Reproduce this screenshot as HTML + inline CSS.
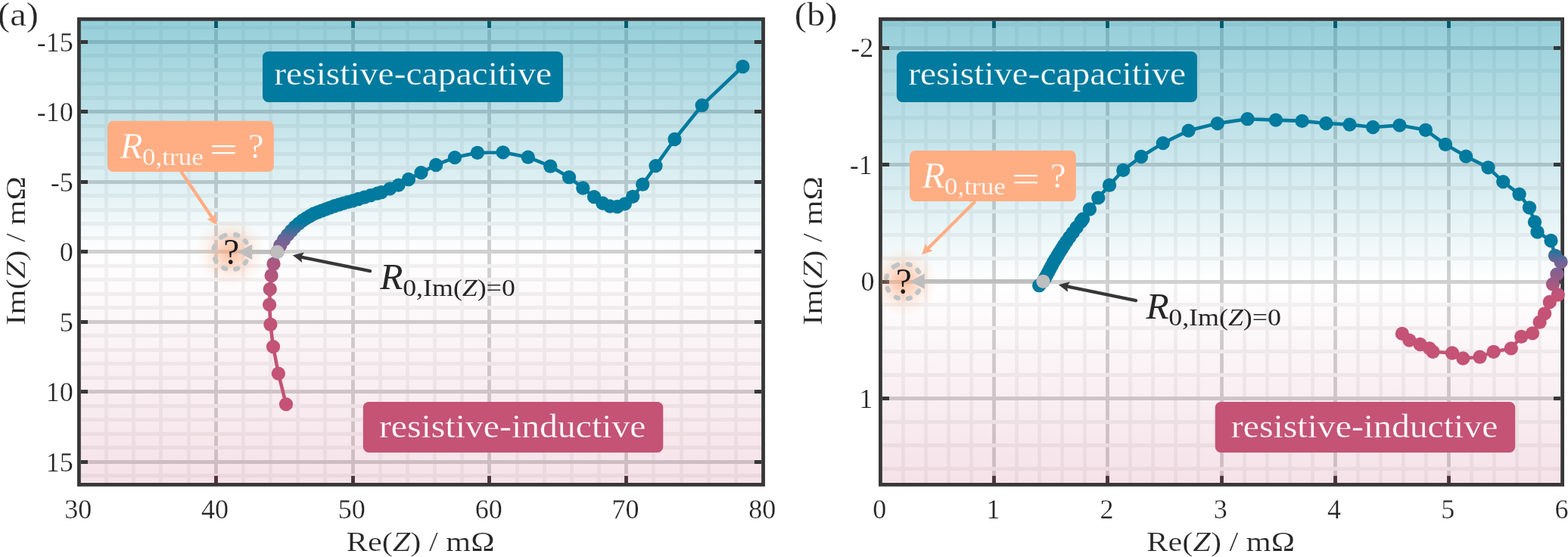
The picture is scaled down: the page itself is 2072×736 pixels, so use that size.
<!DOCTYPE html>
<html lang="en">
<head>
<meta charset="utf-8">
<title>Nyquist plots: resistive-capacitive and resistive-inductive regions</title>
<style>
html,body{margin:0;padding:0;background:#fff;}
body{width:2072px;height:736px;overflow:hidden;}
svg text{font-kerning:normal;}
</style>
</head>
<body>
<svg width="2072" height="736" viewBox="0 0 2072 736" font-family='"Liberation Serif", "DejaVu Serif", serif' style="display:block">
<rect width="2072" height="736" fill="#fff"/>
<defs>
<linearGradient id="bga" gradientUnits="userSpaceOnUse" x1="0" y1="25.3" x2="0" y2="640.4">
<stop offset="0" stop-color="#008aa5" stop-opacity="0.42"/>
<stop offset="0.4999" stop-color="#008aa5" stop-opacity="0"/>
<stop offset="0.4999" stop-color="#c45376" stop-opacity="0"/>
<stop offset="1" stop-color="#c45376" stop-opacity="0.17"/>
</linearGradient>
<radialGradient id="glowa" gradientUnits="userSpaceOnUse" cx="305" cy="332.9" r="46">
<stop offset="0" stop-color="#ffa070" stop-opacity="0.62"/>
<stop offset="0.2" stop-color="#ffa070" stop-opacity="0.52"/>
<stop offset="0.45" stop-color="#ffa070" stop-opacity="0.3"/>
<stop offset="0.7" stop-color="#ffa070" stop-opacity="0.11"/>
<stop offset="1" stop-color="#ffa070" stop-opacity="0"/>
</radialGradient>
<linearGradient id="dga" gradientUnits="userSpaceOnUse" x1="0" y1="292.9" x2="0" y2="442.9">
<stop offset="0.0000" stop-color="#007a9e"/>
<stop offset="0.1333" stop-color="#656697"/>
<stop offset="0.1600" stop-color="#706496"/>
<stop offset="0.2667" stop-color="#925d89"/>
<stop offset="0.3667" stop-color="#ab5880"/>
<stop offset="0.6000" stop-color="#bc5579"/>
<stop offset="1.0000" stop-color="#c45376"/>
</linearGradient>
<clipPath id="clipa"><rect x="104.4" y="25.3" width="904.15" height="615.1"/></clipPath>
</defs>
<path d="M285.5 38.9V53.1M285.5 57.9V71.1M285.5 75.9V90.1M285.5 94.9V108.1M285.5 112.9V127.1M285.5 131.9V145.1M285.5 149.9V164.1M285.5 168.9V182.1M285.5 186.9V201.1M285.5 205.9V219.1M285.5 223.9V238.1M285.5 242.9V256.1M285.5 260.9V275.1M285.5 279.9V293.1M285.5 297.9V312.1M285.5 316.9V330.1M285.5 334.9V349.1M285.5 353.9V367.1M285.5 371.9V386.1M285.5 390.9V404.1M285.5 408.9V423.1M285.5 427.9V441.1M285.5 445.9V460.1M285.5 464.9V478.1M285.5 482.9V497.1M285.5 501.9V515.1M285.5 519.9V534.1M285.5 538.9V552.1M285.5 556.9V571.1M285.5 575.9V589.1M285.5 593.9V608.1M285.5 612.9V626.1M466.5 38.9V53.1M466.5 57.9V71.1M466.5 75.9V90.1M466.5 94.9V108.1M466.5 112.9V127.1M466.5 131.9V145.1M466.5 149.9V164.1M466.5 168.9V182.1M466.5 186.9V201.1M466.5 205.9V219.1M466.5 223.9V238.1M466.5 242.9V256.1M466.5 260.9V275.1M466.5 279.9V293.1M466.5 297.9V312.1M466.5 316.9V330.1M466.5 334.9V349.1M466.5 353.9V367.1M466.5 371.9V386.1M466.5 390.9V404.1M466.5 408.9V423.1M466.5 427.9V441.1M466.5 445.9V460.1M466.5 464.9V478.1M466.5 482.9V497.1M466.5 501.9V515.1M466.5 519.9V534.1M466.5 538.9V552.1M466.5 556.9V571.1M466.5 575.9V589.1M466.5 593.9V608.1M466.5 612.9V626.1M646.5 38.9V53.1M646.5 57.9V71.1M646.5 75.9V90.1M646.5 94.9V108.1M646.5 112.9V127.1M646.5 131.9V145.1M646.5 149.9V164.1M646.5 168.9V182.1M646.5 186.9V201.1M646.5 205.9V219.1M646.5 223.9V238.1M646.5 242.9V256.1M646.5 260.9V275.1M646.5 279.9V293.1M646.5 297.9V312.1M646.5 316.9V330.1M646.5 334.9V349.1M646.5 353.9V367.1M646.5 371.9V386.1M646.5 390.9V404.1M646.5 408.9V423.1M646.5 427.9V441.1M646.5 445.9V460.1M646.5 464.9V478.1M646.5 482.9V497.1M646.5 501.9V515.1M646.5 519.9V534.1M646.5 538.9V552.1M646.5 556.9V571.1M646.5 575.9V589.1M646.5 593.9V608.1M646.5 612.9V626.1M827.5 38.9V53.1M827.5 57.9V71.1M827.5 75.9V90.1M827.5 94.9V108.1M827.5 112.9V127.1M827.5 131.9V145.1M827.5 149.9V164.1M827.5 168.9V182.1M827.5 186.9V201.1M827.5 205.9V219.1M827.5 223.9V238.1M827.5 242.9V256.1M827.5 260.9V275.1M827.5 279.9V293.1M827.5 297.9V312.1M827.5 316.9V330.1M827.5 334.9V349.1M827.5 353.9V367.1M827.5 371.9V386.1M827.5 390.9V404.1M827.5 408.9V423.1M827.5 427.9V441.1M827.5 445.9V460.1M827.5 464.9V478.1M827.5 482.9V497.1M827.5 501.9V515.1M827.5 519.9V534.1M827.5 538.9V552.1M827.5 556.9V571.1M827.5 575.9V589.1M827.5 593.9V608.1M827.5 612.9V626.1" stroke="#262626" stroke-opacity="0.215" stroke-width="4.8" fill="none"/>
<g opacity="0.052" clip-path="url(#clipa)"><path d="M106.8 36.5H1006.15M106.8 73.5H1006.15M106.8 92.5H1006.15M106.8 110.5H1006.15M106.8 129.5H1006.15M106.8 166.5H1006.15M106.8 184.5H1006.15M106.8 203.5H1006.15M106.8 221.5H1006.15M106.8 258.5H1006.15M106.8 277.5H1006.15M106.8 295.5H1006.15M106.8 314.5H1006.15M106.8 351.5H1006.15M106.8 369.5H1006.15M106.8 388.5H1006.15M106.8 406.5H1006.15M106.8 443.5H1006.15M106.8 462.5H1006.15M106.8 480.5H1006.15M106.8 499.5H1006.15M106.8 536.5H1006.15M106.8 554.5H1006.15M106.8 573.5H1006.15M106.8 591.5H1006.15M106.8 628.5H1006.15M140.5 27.7V53.1M140.5 57.9V145.1M140.5 149.9V238.1M140.5 242.9V330.1M140.5 334.9V423.1M140.5 427.9V515.1M140.5 519.9V608.1M140.5 612.9V638M176.5 27.7V53.1M176.5 57.9V145.1M176.5 149.9V238.1M176.5 242.9V330.1M176.5 334.9V423.1M176.5 427.9V515.1M176.5 519.9V608.1M176.5 612.9V638M212.5 27.7V53.1M212.5 57.9V145.1M212.5 149.9V238.1M212.5 242.9V330.1M212.5 334.9V423.1M212.5 427.9V515.1M212.5 519.9V608.1M212.5 612.9V638M249.5 27.7V53.1M249.5 57.9V145.1M249.5 149.9V238.1M249.5 242.9V330.1M249.5 334.9V423.1M249.5 427.9V515.1M249.5 519.9V608.1M249.5 612.9V638M321.5 27.7V53.1M321.5 57.9V145.1M321.5 149.9V238.1M321.5 242.9V330.1M321.5 334.9V423.1M321.5 427.9V515.1M321.5 519.9V608.1M321.5 612.9V638M357.5 27.7V53.1M357.5 57.9V145.1M357.5 149.9V238.1M357.5 242.9V330.1M357.5 334.9V423.1M357.5 427.9V515.1M357.5 519.9V608.1M357.5 612.9V638M393.5 27.7V53.1M393.5 57.9V145.1M393.5 149.9V238.1M393.5 242.9V330.1M393.5 334.9V423.1M393.5 427.9V515.1M393.5 519.9V608.1M393.5 612.9V638M429.5 27.7V53.1M429.5 57.9V145.1M429.5 149.9V238.1M429.5 242.9V330.1M429.5 334.9V423.1M429.5 427.9V515.1M429.5 519.9V608.1M429.5 612.9V638M502.5 27.7V53.1M502.5 57.9V145.1M502.5 149.9V238.1M502.5 242.9V330.1M502.5 334.9V423.1M502.5 427.9V515.1M502.5 519.9V608.1M502.5 612.9V638M538.5 27.7V53.1M538.5 57.9V145.1M538.5 149.9V238.1M538.5 242.9V330.1M538.5 334.9V423.1M538.5 427.9V515.1M538.5 519.9V608.1M538.5 612.9V638M574.5 27.7V53.1M574.5 57.9V145.1M574.5 149.9V238.1M574.5 242.9V330.1M574.5 334.9V423.1M574.5 427.9V515.1M574.5 519.9V608.1M574.5 612.9V638M610.5 27.7V53.1M610.5 57.9V145.1M610.5 149.9V238.1M610.5 242.9V330.1M610.5 334.9V423.1M610.5 427.9V515.1M610.5 519.9V608.1M610.5 612.9V638M683.5 27.7V53.1M683.5 57.9V145.1M683.5 149.9V238.1M683.5 242.9V330.1M683.5 334.9V423.1M683.5 427.9V515.1M683.5 519.9V608.1M683.5 612.9V638M719.5 27.7V53.1M719.5 57.9V145.1M719.5 149.9V238.1M719.5 242.9V330.1M719.5 334.9V423.1M719.5 427.9V515.1M719.5 519.9V608.1M719.5 612.9V638M755.5 27.7V53.1M755.5 57.9V145.1M755.5 149.9V238.1M755.5 242.9V330.1M755.5 334.9V423.1M755.5 427.9V515.1M755.5 519.9V608.1M755.5 612.9V638M791.5 27.7V53.1M791.5 57.9V145.1M791.5 149.9V238.1M791.5 242.9V330.1M791.5 334.9V423.1M791.5 427.9V515.1M791.5 519.9V608.1M791.5 612.9V638M863.5 27.7V53.1M863.5 57.9V145.1M863.5 149.9V238.1M863.5 242.9V330.1M863.5 334.9V423.1M863.5 427.9V515.1M863.5 519.9V608.1M863.5 612.9V638M900.5 27.7V53.1M900.5 57.9V145.1M900.5 149.9V238.1M900.5 242.9V330.1M900.5 334.9V423.1M900.5 427.9V515.1M900.5 519.9V608.1M900.5 612.9V638M936.5 27.7V53.1M936.5 57.9V145.1M936.5 149.9V238.1M936.5 242.9V330.1M936.5 334.9V423.1M936.5 427.9V515.1M936.5 519.9V608.1M936.5 612.9V638M972.5 27.7V53.1M972.5 57.9V145.1M972.5 149.9V238.1M972.5 242.9V330.1M972.5 334.9V423.1M972.5 427.9V515.1M972.5 519.9V608.1M972.5 612.9V638" stroke="#000" stroke-width="4.8" fill="none"/></g>
<path d="M116 55.5H996.95M116 147.5H996.95M116 240.5H996.95M116 332.5H996.95M116 425.5H996.95M116 517.5H996.95M116 610.5H996.95" stroke="#262626" stroke-opacity="0.215" stroke-width="4.8" fill="none"/>
<rect x="104.4" y="25.3" width="904.15" height="615.1" fill="url(#bga)"/>
<path d="M106.8 55.5h9.2M1006.15 55.5h-9.2M106.8 147.5h9.2M1006.15 147.5h-9.2M106.8 240.5h9.2M1006.15 240.5h-9.2M106.8 332.5h9.2M1006.15 332.5h-9.2M106.8 425.5h9.2M1006.15 425.5h-9.2M106.8 517.5h9.2M1006.15 517.5h-9.2M106.8 610.5h9.2M1006.15 610.5h-9.2" stroke="#373737" stroke-width="4.8" fill="none"/>
<path d="M285.5 27.7v9.2M466.5 27.7v9.2M646.5 27.7v9.2M827.5 27.7v9.2" stroke="#00586a" stroke-width="4.8" fill="none"/>
<path d="M285.5 638v-9.2M466.5 638v-9.2M646.5 638v-9.2M827.5 638v-9.2" stroke="#4e303c" stroke-width="4.8" fill="none"/>
<rect x="104.4" y="25.3" width="904.15" height="615.1" fill="none" stroke="#373737" stroke-width="4.8"/>
<g clip-path="url(#clipa)"><circle cx="305" cy="332.9" r="46" fill="url(#glowa)"/></g>
<path d="M366.35 332.9H330.9" stroke="#bebebe" stroke-width="5.6" fill="none"/>
<path d="M323.63 317.98A23.4 23.4 0 0 1 325.36 320.36M310.98 310.13A23.4 23.4 0 0 1 314.25 311.16M292.14 313.76A23.4 23.4 0 0 1 297.64 310.9M282.66 328.27A23.4 23.4 0 0 1 283.42 325.44M285.54 344.95A23.4 23.4 0 0 1 284.06 342.04M298.37 355.15A23.4 23.4 0 0 1 295.34 353.93M314.25 354.64A23.4 23.4 0 0 1 310.98 355.67M325.36 345.44A23.4 23.4 0 0 1 323.63 347.82M328.95 331.43A23.4 23.4 0 0 1 328.95 334.37" fill="none" stroke="#c0c4c6" stroke-width="6.2" stroke-linecap="round"/>
<path d="M313.9 332.9l19.3 -10v20z" fill="#bebebe"/>
<path d="M378 534.1L367.9 493.6M367.9 493.6L361 458.1" stroke="#c45376" stroke-width="4.6" stroke-linecap="round" fill="none"/>
<path d="M361 458.1L357.4 428.7" stroke="url(#dga)" stroke-width="4.6" stroke-linecap="round" fill="none"/>
<path d="M357.4 428.7L356.1 402.6" stroke="url(#dga)" stroke-width="4.6" stroke-linecap="round" fill="none"/>
<path d="M356.1 402.6L356.8 382" stroke="url(#dga)" stroke-width="4.6" stroke-linecap="round" fill="none"/>
<path d="M356.8 382L358.6 364" stroke="url(#dga)" stroke-width="4.6" stroke-linecap="round" fill="none"/>
<path d="M358.6 364L361.5 348.7" stroke="url(#dga)" stroke-width="4.6" stroke-linecap="round" fill="none"/>
<path d="M361.5 348.7L366.35 332.9" stroke="url(#dga)" stroke-width="4.6" stroke-linecap="round" fill="none"/>
<path d="M366.35 332.9L370.24 324.24" stroke="url(#dga)" stroke-width="4.6" stroke-linecap="round" fill="none"/>
<path d="M370.24 324.24L375 316.93" stroke="url(#dga)" stroke-width="4.6" stroke-linecap="round" fill="none"/>
<path d="M375 316.93L379.95 310.62" stroke="url(#dga)" stroke-width="4.6" stroke-linecap="round" fill="none"/>
<path d="M379.95 310.62L384.82 305.02" stroke="url(#dga)" stroke-width="4.6" stroke-linecap="round" fill="none"/>
<path d="M384.82 305.02L389.65 299.87" stroke="url(#dga)" stroke-width="4.6" stroke-linecap="round" fill="none"/>
<path d="M389.65 299.87L394.78 295.52" stroke="url(#dga)" stroke-width="4.6" stroke-linecap="round" fill="none"/>
<path d="M394.78 295.52L399.69 291.42" stroke="url(#dga)" stroke-width="4.6" stroke-linecap="round" fill="none"/>
<path d="M399.69 291.42L404.81 288.15" stroke="url(#dga)" stroke-width="4.6" stroke-linecap="round" fill="none"/>
<path d="M404.81 288.15L409.81 285.23" stroke="url(#dga)" stroke-width="4.6" stroke-linecap="round" fill="none"/>
<path d="M409.81 285.23L414.58 282.49" stroke="url(#dga)" stroke-width="4.6" stroke-linecap="round" fill="none"/>
<path d="M414.58 282.49L419.82 280.49M419.82 280.49L425.16 278.45M425.16 278.45L430.63 276.4M430.63 276.4L436.22 274.34M436.22 274.34L441.92 272.27M441.92 272.27L447.85 270.44M447.85 270.44L453.89 268.57M453.89 268.57L460.1 266.84M460.1 266.84L466.68 265.05M466.68 265.05L473.76 262.98M473.76 262.98L481.39 260.68M481.39 260.68L489.63 258.19M489.63 258.19L498.57 255.59M498.57 255.59L503.8 254.2M503.8 254.2L515.2 249.4M515.2 249.4L526.6 244.6M526.6 244.6L539.9 237M539.9 237L556.5 228.1M556.5 228.1L576.1 218M576.1 218L601 208.1M601 208.1L630.9 201.8M630.9 201.8L664.7 201.3M664.7 201.3L697.8 207.7M697.8 207.7L727.3 219.7M727.3 219.7L752 234.2M752 234.2L770.3 248.5M770.3 248.5L785.1 260.2M785.1 260.2L796.3 268.5M796.3 268.5L806 272.5M806 272.5L815.8 273M815.8 273L825.8 269.4M825.8 269.4L836.2 259.8M836.2 259.8L849.2 243.7M849.2 243.7L866.5 219.1M866.5 219.1L891.5 184M891.5 184L927.7 139.2M927.7 139.2L981.5 88" stroke="#007a9e" stroke-width="4.6" stroke-linecap="round" fill="none"/>
<circle cx="378" cy="534.1" r="9.15" fill="#c45376"/>
<circle cx="367.9" cy="493.6" r="9.15" fill="#c45376"/>
<circle cx="361" cy="458.1" r="9.15" fill="#c45376"/>
<circle cx="357.4" cy="428.7" r="9.15" fill="url(#dga)"/>
<circle cx="356.1" cy="402.6" r="9.15" fill="url(#dga)"/>
<circle cx="356.8" cy="382" r="9.15" fill="url(#dga)"/>
<circle cx="358.6" cy="364" r="9.15" fill="url(#dga)"/>
<circle cx="361.5" cy="348.7" r="9.15" fill="url(#dga)"/>
<circle cx="366.35" cy="332.9" r="9.15" fill="url(#dga)"/>
<circle cx="370.24" cy="324.24" r="9.15" fill="url(#dga)"/>
<circle cx="375" cy="316.93" r="9.15" fill="url(#dga)"/>
<circle cx="379.95" cy="310.62" r="9.15" fill="url(#dga)"/>
<circle cx="384.82" cy="305.02" r="9.15" fill="url(#dga)"/>
<circle cx="389.65" cy="299.87" r="9.15" fill="url(#dga)"/>
<circle cx="394.78" cy="295.52" r="9.15" fill="url(#dga)"/>
<circle cx="399.69" cy="291.42" r="9.15" fill="url(#dga)"/>
<circle cx="404.81" cy="288.15" r="9.15" fill="url(#dga)"/>
<circle cx="409.81" cy="285.23" r="9.15" fill="url(#dga)"/>
<circle cx="414.58" cy="282.49" r="9.15" fill="#007a9e"/>
<circle cx="419.82" cy="280.49" r="9.15" fill="#007a9e"/>
<circle cx="425.16" cy="278.45" r="9.15" fill="#007a9e"/>
<circle cx="430.63" cy="276.4" r="9.15" fill="#007a9e"/>
<circle cx="436.22" cy="274.34" r="9.15" fill="#007a9e"/>
<circle cx="441.92" cy="272.27" r="9.15" fill="#007a9e"/>
<circle cx="447.85" cy="270.44" r="9.15" fill="#007a9e"/>
<circle cx="453.89" cy="268.57" r="9.15" fill="#007a9e"/>
<circle cx="460.1" cy="266.84" r="9.15" fill="#007a9e"/>
<circle cx="466.68" cy="265.05" r="9.15" fill="#007a9e"/>
<circle cx="473.76" cy="262.98" r="9.15" fill="#007a9e"/>
<circle cx="481.39" cy="260.68" r="9.15" fill="#007a9e"/>
<circle cx="489.63" cy="258.19" r="9.15" fill="#007a9e"/>
<circle cx="498.57" cy="255.59" r="9.15" fill="#007a9e"/>
<circle cx="503.8" cy="254.2" r="9.15" fill="#007a9e"/>
<circle cx="515.2" cy="249.4" r="9.15" fill="#007a9e"/>
<circle cx="526.6" cy="244.6" r="9.15" fill="#007a9e"/>
<circle cx="539.9" cy="237" r="9.15" fill="#007a9e"/>
<circle cx="556.5" cy="228.1" r="9.15" fill="#007a9e"/>
<circle cx="576.1" cy="218" r="9.15" fill="#007a9e"/>
<circle cx="601" cy="208.1" r="9.15" fill="#007a9e"/>
<circle cx="630.9" cy="201.8" r="9.15" fill="#007a9e"/>
<circle cx="664.7" cy="201.3" r="9.15" fill="#007a9e"/>
<circle cx="697.8" cy="207.7" r="9.15" fill="#007a9e"/>
<circle cx="727.3" cy="219.7" r="9.15" fill="#007a9e"/>
<circle cx="752" cy="234.2" r="9.15" fill="#007a9e"/>
<circle cx="770.3" cy="248.5" r="9.15" fill="#007a9e"/>
<circle cx="785.1" cy="260.2" r="9.15" fill="#007a9e"/>
<circle cx="796.3" cy="268.5" r="9.15" fill="#007a9e"/>
<circle cx="806" cy="272.5" r="9.15" fill="#007a9e"/>
<circle cx="815.8" cy="273" r="9.15" fill="#007a9e"/>
<circle cx="825.8" cy="269.4" r="9.15" fill="#007a9e"/>
<circle cx="836.2" cy="259.8" r="9.15" fill="#007a9e"/>
<circle cx="849.2" cy="243.7" r="9.15" fill="#007a9e"/>
<circle cx="866.5" cy="219.1" r="9.15" fill="#007a9e"/>
<circle cx="891.5" cy="184" r="9.15" fill="#007a9e"/>
<circle cx="927.7" cy="139.2" r="9.15" fill="#007a9e"/>
<circle cx="981.5" cy="88" r="9.15" fill="#007a9e"/>
<circle cx="366.35" cy="332.9" r="9.15" fill="#bebebe"/>
<text transform="translate(305.8 348.7) scale(0.9700 1)" font-size="49" text-anchor="middle" fill="#1c1c20">?</text>
<path d="M397.53 339.55L488.95 358.2" stroke="#373737" stroke-width="4.4" stroke-linecap="round" fill="none"/>
<path d="M386.75 337.35L399.09 346.91L398.02 339.65L401.85 333.39Z" fill="#373737"/>
<text transform="translate(502.35 382.4) scale(1.0300 1)" font-size="48" text-anchor="start" fill="#262626"><tspan font-style="italic">R</tspan></text>
<text transform="translate(532.15 391.1) scale(1.1580 1)" font-size="31" text-anchor="start" fill="#262626">0,Im(<tspan font-style="italic">Z</tspan>)=0</text>
<path d="M280.58 287.96L239.2 226.5" stroke="#ffae84" stroke-width="4.4" stroke-linecap="butt" fill="none"/>
<path d="M287 297.5L284.82 282.09L280.3 287.55L273.54 289.68Z" fill="#ffae84"/>
<rect x="142" y="159.7" width="219.8" height="67.2" rx="7.5" fill="#ffae84"/>
<text transform="translate(158.5 208.9) scale(1.0300 1)" font-size="48" text-anchor="start" fill="#fff" stroke="#ffae84" stroke-width="0.34"><tspan font-style="italic">R</tspan></text>
<text transform="translate(188 217.6) scale(1.1300 1)" font-size="31" text-anchor="start" fill="#fff" stroke="#ffae84" stroke-width="0.22">0,true</text>
<text transform="translate(295.5 211.5) scale(1.4500 1)" font-size="45" text-anchor="middle" fill="#fff">=</text>
<text transform="translate(338.3 208.9)" font-size="47" text-anchor="middle" fill="#fff" stroke="#ffae84" stroke-width="0.33">?</text>
<rect x="347" y="68" width="397" height="67" rx="7.5" fill="#007a9e"/>
<text transform="translate(545.7 112.3) scale(1.0810 1)" font-size="44" text-anchor="middle" fill="#fff" stroke="#007a9e" stroke-width="0.31">resistive-capacitive</text>
<rect x="479.8" y="531" width="396.5" height="67" rx="7.5" fill="#c45376"/>
<text transform="translate(677.2 577.9) scale(1.0850 1)" font-size="44" text-anchor="middle" fill="#fff" stroke="#c45376" stroke-width="0.31">resistive-inductive</text>
<text transform="translate(103.16 684.6)" font-size="36" text-anchor="middle" fill="#262626" stroke="#fff" stroke-width="0.25">30</text>
<text transform="translate(284 684.6)" font-size="36" text-anchor="middle" fill="#262626" stroke="#fff" stroke-width="0.25">40</text>
<text transform="translate(464.84 684.6)" font-size="36" text-anchor="middle" fill="#262626" stroke="#fff" stroke-width="0.25">50</text>
<text transform="translate(645.68 684.6)" font-size="36" text-anchor="middle" fill="#262626" stroke="#fff" stroke-width="0.25">60</text>
<text transform="translate(826.52 684.6)" font-size="36" text-anchor="middle" fill="#262626" stroke="#fff" stroke-width="0.25">70</text>
<text transform="translate(1007.36 684.6)" font-size="36" text-anchor="middle" fill="#262626" stroke="#fff" stroke-width="0.25">80</text>
<text transform="translate(96.8 67.73)" font-size="36" text-anchor="end" fill="#262626" stroke="#fff" stroke-width="0.25">-15</text>
<text transform="translate(96.8 160.2)" font-size="36" text-anchor="end" fill="#262626" stroke="#fff" stroke-width="0.25">-10</text>
<text transform="translate(96.8 252.67)" font-size="36" text-anchor="end" fill="#262626" stroke="#fff" stroke-width="0.25">-5</text>
<text transform="translate(96.8 345.13)" font-size="36" text-anchor="end" fill="#262626" stroke="#fff" stroke-width="0.25">0</text>
<text transform="translate(96.8 437.59)" font-size="36" text-anchor="end" fill="#262626" stroke="#fff" stroke-width="0.25">5</text>
<text transform="translate(96.8 530.06)" font-size="36" text-anchor="end" fill="#262626" stroke="#fff" stroke-width="0.25">10</text>
<text transform="translate(96.8 622.52)" font-size="36" text-anchor="end" fill="#262626" stroke="#fff" stroke-width="0.25">15</text>
<text transform="translate(555.68 727.6) scale(1.1740 1)" font-size="36" text-anchor="middle" fill="#262626" stroke="#fff" stroke-width="0.25">Re(<tspan font-style="italic">Z</tspan>) / mΩ</text>
<text transform="translate(33.2 331.35) rotate(-90) scale(1.1800 1)" font-size="36" text-anchor="middle" fill="#262626" stroke="#fff" stroke-width="0.25">Im(<tspan font-style="italic">Z</tspan>) / mΩ</text>
<text transform="translate(-3 33.7) scale(1.0800 1)" font-size="45" text-anchor="start" fill="#262626" stroke="#fff" stroke-width="0.32">(a)</text>
<defs>
<linearGradient id="bgb" gradientUnits="userSpaceOnUse" x1="0" y1="25.3" x2="0" y2="640.4">
<stop offset="0" stop-color="#008aa5" stop-opacity="0.42"/>
<stop offset="0.5636" stop-color="#008aa5" stop-opacity="0"/>
<stop offset="0.5636" stop-color="#c45376" stop-opacity="0"/>
<stop offset="1" stop-color="#c45376" stop-opacity="0.17"/>
</linearGradient>
<radialGradient id="glowb" gradientUnits="userSpaceOnUse" cx="1193.6" cy="371.8" r="46">
<stop offset="0" stop-color="#ffa070" stop-opacity="0.62"/>
<stop offset="0.2" stop-color="#ffa070" stop-opacity="0.52"/>
<stop offset="0.45" stop-color="#ffa070" stop-opacity="0.3"/>
<stop offset="0.7" stop-color="#ffa070" stop-opacity="0.11"/>
<stop offset="1" stop-color="#ffa070" stop-opacity="0"/>
</radialGradient>
<linearGradient id="dgb" gradientUnits="userSpaceOnUse" x1="0" y1="323.8" x2="0" y2="388.8">
<stop offset="0.0000" stop-color="#007a9e"/>
<stop offset="0.3385" stop-color="#706496"/>
<stop offset="0.5846" stop-color="#895f8c"/>
<stop offset="0.7846" stop-color="#a25a83"/>
<stop offset="1.0000" stop-color="#c45376"/>
</linearGradient>
<clipPath id="clipb"><rect x="1163.45" y="25.3" width="901.15" height="615.1"/></clipPath>
</defs>
<path d="M1313.5 34.9V61.1M1313.5 65.9V91.1M1313.5 95.9V122.1M1313.5 126.9V153.1M1313.5 157.9V184.1M1313.5 188.9V215.1M1313.5 219.9V246.1M1313.5 250.9V277.1M1313.5 281.9V308.1M1313.5 312.9V339.1M1313.5 343.9V370.1M1313.5 374.9V400.1M1313.5 404.9V431.1M1313.5 435.9V462.1M1313.5 466.9V493.1M1313.5 497.9V524.1M1313.5 528.9V555.1M1313.5 559.9V586.1M1313.5 590.9V617.1M1313.5 621.9V629M1463.5 34.9V61.1M1463.5 65.9V91.1M1463.5 95.9V122.1M1463.5 126.9V153.1M1463.5 157.9V184.1M1463.5 188.9V215.1M1463.5 219.9V246.1M1463.5 250.9V277.1M1463.5 281.9V308.1M1463.5 312.9V339.1M1463.5 343.9V370.1M1463.5 374.9V400.1M1463.5 404.9V431.1M1463.5 435.9V462.1M1463.5 466.9V493.1M1463.5 497.9V524.1M1463.5 528.9V555.1M1463.5 559.9V586.1M1463.5 590.9V617.1M1463.5 621.9V629M1614.5 34.9V61.1M1614.5 65.9V91.1M1614.5 95.9V122.1M1614.5 126.9V153.1M1614.5 157.9V184.1M1614.5 188.9V215.1M1614.5 219.9V246.1M1614.5 250.9V277.1M1614.5 281.9V308.1M1614.5 312.9V339.1M1614.5 343.9V370.1M1614.5 374.9V400.1M1614.5 404.9V431.1M1614.5 435.9V462.1M1614.5 466.9V493.1M1614.5 497.9V524.1M1614.5 528.9V555.1M1614.5 559.9V586.1M1614.5 590.9V617.1M1614.5 621.9V629M1764.5 34.9V61.1M1764.5 65.9V91.1M1764.5 95.9V122.1M1764.5 126.9V153.1M1764.5 157.9V184.1M1764.5 188.9V215.1M1764.5 219.9V246.1M1764.5 250.9V277.1M1764.5 281.9V308.1M1764.5 312.9V339.1M1764.5 343.9V370.1M1764.5 374.9V400.1M1764.5 404.9V431.1M1764.5 435.9V462.1M1764.5 466.9V493.1M1764.5 497.9V524.1M1764.5 528.9V555.1M1764.5 559.9V586.1M1764.5 590.9V617.1M1764.5 621.9V629M1914.5 34.9V61.1M1914.5 65.9V91.1M1914.5 95.9V122.1M1914.5 126.9V153.1M1914.5 157.9V184.1M1914.5 188.9V215.1M1914.5 219.9V246.1M1914.5 250.9V277.1M1914.5 281.9V308.1M1914.5 312.9V339.1M1914.5 343.9V370.1M1914.5 374.9V400.1M1914.5 404.9V431.1M1914.5 435.9V462.1M1914.5 466.9V493.1M1914.5 497.9V524.1M1914.5 528.9V555.1M1914.5 559.9V586.1M1914.5 590.9V617.1M1914.5 621.9V629" stroke="#262626" stroke-opacity="0.215" stroke-width="4.8" fill="none"/>
<g opacity="0.052" clip-path="url(#clipb)"><path d="M1165.85 32.5H2062.2M1165.85 93.5H2062.2M1165.85 124.5H2062.2M1165.85 155.5H2062.2M1165.85 186.5H2062.2M1165.85 248.5H2062.2M1165.85 279.5H2062.2M1165.85 310.5H2062.2M1165.85 341.5H2062.2M1165.85 402.5H2062.2M1165.85 433.5H2062.2M1165.85 464.5H2062.2M1165.85 495.5H2062.2M1165.85 557.5H2062.2M1165.85 588.5H2062.2M1165.85 619.5H2062.2M1193.5 27.7V61.1M1193.5 65.9V215.1M1193.5 219.9V370.1M1193.5 374.9V524.1M1193.5 528.9V638M1223.5 27.7V61.1M1223.5 65.9V215.1M1223.5 219.9V370.1M1223.5 374.9V524.1M1223.5 528.9V638M1253.5 27.7V61.1M1253.5 65.9V215.1M1253.5 219.9V370.1M1253.5 374.9V524.1M1253.5 528.9V638M1283.5 27.7V61.1M1283.5 65.9V215.1M1283.5 219.9V370.1M1283.5 374.9V524.1M1283.5 528.9V638M1343.5 27.7V61.1M1343.5 65.9V215.1M1343.5 219.9V370.1M1343.5 374.9V524.1M1343.5 528.9V638M1373.5 27.7V61.1M1373.5 65.9V215.1M1373.5 219.9V370.1M1373.5 374.9V524.1M1373.5 528.9V638M1403.5 27.7V61.1M1403.5 65.9V215.1M1403.5 219.9V370.1M1403.5 374.9V524.1M1403.5 528.9V638M1433.5 27.7V61.1M1433.5 65.9V215.1M1433.5 219.9V370.1M1433.5 374.9V524.1M1433.5 528.9V638M1493.5 27.7V61.1M1493.5 65.9V215.1M1493.5 219.9V370.1M1493.5 374.9V524.1M1493.5 528.9V638M1523.5 27.7V61.1M1523.5 65.9V215.1M1523.5 219.9V370.1M1523.5 374.9V524.1M1523.5 528.9V638M1553.5 27.7V61.1M1553.5 65.9V215.1M1553.5 219.9V370.1M1553.5 374.9V524.1M1553.5 528.9V638M1583.5 27.7V61.1M1583.5 65.9V215.1M1583.5 219.9V370.1M1583.5 374.9V524.1M1583.5 528.9V638M1644.5 27.7V61.1M1644.5 65.9V215.1M1644.5 219.9V370.1M1644.5 374.9V524.1M1644.5 528.9V638M1674.5 27.7V61.1M1674.5 65.9V215.1M1674.5 219.9V370.1M1674.5 374.9V524.1M1674.5 528.9V638M1704.5 27.7V61.1M1704.5 65.9V215.1M1704.5 219.9V370.1M1704.5 374.9V524.1M1704.5 528.9V638M1734.5 27.7V61.1M1734.5 65.9V215.1M1734.5 219.9V370.1M1734.5 374.9V524.1M1734.5 528.9V638M1794.5 27.7V61.1M1794.5 65.9V215.1M1794.5 219.9V370.1M1794.5 374.9V524.1M1794.5 528.9V638M1824.5 27.7V61.1M1824.5 65.9V215.1M1824.5 219.9V370.1M1824.5 374.9V524.1M1824.5 528.9V638M1854.5 27.7V61.1M1854.5 65.9V215.1M1854.5 219.9V370.1M1854.5 374.9V524.1M1854.5 528.9V638M1884.5 27.7V61.1M1884.5 65.9V215.1M1884.5 219.9V370.1M1884.5 374.9V524.1M1884.5 528.9V638M1944.5 27.7V61.1M1944.5 65.9V215.1M1944.5 219.9V370.1M1944.5 374.9V524.1M1944.5 528.9V638M1974.5 27.7V61.1M1974.5 65.9V215.1M1974.5 219.9V370.1M1974.5 374.9V524.1M1974.5 528.9V638M2004.5 27.7V61.1M2004.5 65.9V215.1M2004.5 219.9V370.1M2004.5 374.9V524.1M2004.5 528.9V638M2034.5 27.7V61.1M2034.5 65.9V215.1M2034.5 219.9V370.1M2034.5 374.9V524.1M2034.5 528.9V638" stroke="#000" stroke-width="4.8" fill="none"/></g>
<path d="M1175.05 63.5H2053M1175.05 217.5H2053M1175.05 372.5H2053M1175.05 526.5H2053" stroke="#262626" stroke-opacity="0.215" stroke-width="4.8" fill="none"/>
<rect x="1163.45" y="25.3" width="901.15" height="615.1" fill="url(#bgb)"/>
<path d="M1165.85 63.5h9.2M2062.2 63.5h-9.2M1165.85 217.5h9.2M2062.2 217.5h-9.2M1165.85 372.5h9.2M2062.2 372.5h-9.2M1165.85 526.5h9.2M2062.2 526.5h-9.2" stroke="#373737" stroke-width="4.8" fill="none"/>
<path d="M1313.5 27.7v9.2M1463.5 27.7v9.2M1614.5 27.7v9.2M1764.5 27.7v9.2M1914.5 27.7v9.2" stroke="#00586a" stroke-width="4.8" fill="none"/>
<path d="M1313.5 638v-9.2M1463.5 638v-9.2M1614.5 638v-9.2M1764.5 638v-9.2M1914.5 638v-9.2" stroke="#4e303c" stroke-width="4.8" fill="none"/>
<rect x="1163.45" y="25.3" width="901.15" height="615.1" fill="none" stroke="#373737" stroke-width="4.8"/>
<g clip-path="url(#clipb)"><circle cx="1193.6" cy="371.8" r="46" fill="url(#glowb)"/></g>
<path d="M1378.4 371.8H1219.5" stroke="#bebebe" stroke-width="5.6" fill="none"/>
<path d="M1212.23 356.88A23.4 23.4 0 0 1 1213.96 359.26M1199.58 349.03A23.4 23.4 0 0 1 1202.85 350.06M1180.74 352.66A23.4 23.4 0 0 1 1186.24 349.8M1171.26 367.17A23.4 23.4 0 0 1 1172.02 364.34M1174.14 383.85A23.4 23.4 0 0 1 1172.66 380.94M1186.97 394.05A23.4 23.4 0 0 1 1183.94 392.83M1202.85 393.54A23.4 23.4 0 0 1 1199.58 394.57M1213.96 384.34A23.4 23.4 0 0 1 1212.23 386.72M1217.55 370.33A23.4 23.4 0 0 1 1217.55 373.27" fill="none" stroke="#c0c4c6" stroke-width="6.2" stroke-linecap="round"/>
<path d="M1202.5 371.8l19.3 -10v20z" fill="#bebebe"/>
<path d="M1373.2 377.2L1378.4 371.8M1378.4 371.8L1380.6 367.88M1380.6 367.88L1382.85 363.87M1382.85 363.87L1385.15 359.79M1385.15 359.79L1387.37 355.56M1387.37 355.56L1389.64 351.23M1389.64 351.23L1391.95 346.82M1391.95 346.82L1394.49 342.43M1394.49 342.43L1397.21 338.02M1397.21 338.02L1399.99 333.52M1399.99 333.52L1402.85 328.94M1402.85 328.94L1405.8 324.24M1405.8 324.24L1409.24 319.12M1409.24 319.12L1413.21 313.53M1413.21 313.53L1417.69 307.35M1417.69 307.35L1422.72 300.51M1422.72 300.51L1428.36 292.94M1428.36 292.94L1431 289.4M1431 289.4L1439.9 276.5M1439.9 276.5L1451.3 261.4M1451.3 261.4L1466 244.7M1466 244.7L1484.2 224.9M1484.2 224.9L1508 207M1508 207L1536.8 189.1M1536.8 189.1L1570.6 172.6M1570.6 172.6L1608.8 163.1M1608.8 163.1L1648.5 157.2M1648.5 157.2L1685.9 158.6M1685.9 158.6L1720.6 159.9M1720.6 159.9L1752.3 163M1752.3 163L1783.5 164.6M1783.5 164.6L1814.2 168M1814.2 168L1849.4 165.6M1849.4 165.6L1883.9 171.8M1883.9 171.8L1910 190.8M1910 190.8L1937.2 206.6M1937.2 206.6L1966.5 221.3M1966.5 221.3L1986.3 240.1M1986.3 240.1L2007.6 256.7M2007.6 256.7L2021 274.3M2021 274.3L2028 293.4M2028 293.4L2031.5 306.5" stroke="#007a9e" stroke-width="4.6" stroke-linecap="round" fill="none"/>
<path d="M2031.5 306.5L2049.5 318" stroke="url(#dgb)" stroke-width="4.6" stroke-linecap="round" fill="none"/>
<path d="M2049.5 318L2055 337.8" stroke="url(#dgb)" stroke-width="4.6" stroke-linecap="round" fill="none"/>
<path d="M2055 337.8L2062.6 346" stroke="url(#dgb)" stroke-width="4.6" stroke-linecap="round" fill="none"/>
<path d="M2062.6 346L2057.5 362.3" stroke="url(#dgb)" stroke-width="4.6" stroke-linecap="round" fill="none"/>
<path d="M2057.5 362.3L2052 375.5" stroke="url(#dgb)" stroke-width="4.6" stroke-linecap="round" fill="none"/>
<path d="M2052 375.5L2058.8 389.5" stroke="url(#dgb)" stroke-width="4.6" stroke-linecap="round" fill="none"/>
<path d="M2058.8 389.5L2047.8 399" stroke="url(#dgb)" stroke-width="4.6" stroke-linecap="round" fill="none"/>
<path d="M2047.8 399L2041.1 414.3M2041.1 414.3L2034.6 425.7M2034.6 425.7L2025 440.4M2025 440.4L2010.3 444.8M2010.3 444.8L1996.8 460.4M1996.8 460.4L1973.7 464.8M1973.7 464.8L1955.5 471.7M1955.5 471.7L1933.3 473.5M1933.3 473.5L1919 466.5M1919 466.5L1893.5 464.8M1893.5 464.8L1889 460.4M1889 460.4L1876.6 455M1876.6 455L1862.4 449.6M1862.4 449.6L1852.9 440.9" stroke="#c45376" stroke-width="4.6" stroke-linecap="round" fill="none"/>
<circle cx="1373.2" cy="377.2" r="9.15" fill="#007a9e"/>
<circle cx="1378.4" cy="371.8" r="9.15" fill="#007a9e"/>
<circle cx="1380.6" cy="367.88" r="9.15" fill="#007a9e"/>
<circle cx="1382.85" cy="363.87" r="9.15" fill="#007a9e"/>
<circle cx="1385.15" cy="359.79" r="9.15" fill="#007a9e"/>
<circle cx="1387.37" cy="355.56" r="9.15" fill="#007a9e"/>
<circle cx="1389.64" cy="351.23" r="9.15" fill="#007a9e"/>
<circle cx="1391.95" cy="346.82" r="9.15" fill="#007a9e"/>
<circle cx="1394.49" cy="342.43" r="9.15" fill="#007a9e"/>
<circle cx="1397.21" cy="338.02" r="9.15" fill="#007a9e"/>
<circle cx="1399.99" cy="333.52" r="9.15" fill="#007a9e"/>
<circle cx="1402.85" cy="328.94" r="9.15" fill="#007a9e"/>
<circle cx="1405.8" cy="324.24" r="9.15" fill="#007a9e"/>
<circle cx="1409.24" cy="319.12" r="9.15" fill="#007a9e"/>
<circle cx="1413.21" cy="313.53" r="9.15" fill="#007a9e"/>
<circle cx="1417.69" cy="307.35" r="9.15" fill="#007a9e"/>
<circle cx="1422.72" cy="300.51" r="9.15" fill="#007a9e"/>
<circle cx="1428.36" cy="292.94" r="9.15" fill="#007a9e"/>
<circle cx="1431" cy="289.4" r="9.15" fill="#007a9e"/>
<circle cx="1439.9" cy="276.5" r="9.15" fill="#007a9e"/>
<circle cx="1451.3" cy="261.4" r="9.15" fill="#007a9e"/>
<circle cx="1466" cy="244.7" r="9.15" fill="#007a9e"/>
<circle cx="1484.2" cy="224.9" r="9.15" fill="#007a9e"/>
<circle cx="1508" cy="207" r="9.15" fill="#007a9e"/>
<circle cx="1536.8" cy="189.1" r="9.15" fill="#007a9e"/>
<circle cx="1570.6" cy="172.6" r="9.15" fill="#007a9e"/>
<circle cx="1608.8" cy="163.1" r="9.15" fill="#007a9e"/>
<circle cx="1648.5" cy="157.2" r="9.15" fill="#007a9e"/>
<circle cx="1685.9" cy="158.6" r="9.15" fill="#007a9e"/>
<circle cx="1720.6" cy="159.9" r="9.15" fill="#007a9e"/>
<circle cx="1752.3" cy="163" r="9.15" fill="#007a9e"/>
<circle cx="1783.5" cy="164.6" r="9.15" fill="#007a9e"/>
<circle cx="1814.2" cy="168" r="9.15" fill="#007a9e"/>
<circle cx="1849.4" cy="165.6" r="9.15" fill="#007a9e"/>
<circle cx="1883.9" cy="171.8" r="9.15" fill="#007a9e"/>
<circle cx="1910" cy="190.8" r="9.15" fill="#007a9e"/>
<circle cx="1937.2" cy="206.6" r="9.15" fill="#007a9e"/>
<circle cx="1966.5" cy="221.3" r="9.15" fill="#007a9e"/>
<circle cx="1986.3" cy="240.1" r="9.15" fill="#007a9e"/>
<circle cx="2007.6" cy="256.7" r="9.15" fill="#007a9e"/>
<circle cx="2021" cy="274.3" r="9.15" fill="#007a9e"/>
<circle cx="2028" cy="293.4" r="9.15" fill="#007a9e"/>
<circle cx="2031.5" cy="306.5" r="9.15" fill="#007a9e"/>
<circle cx="2049.5" cy="318" r="9.15" fill="url(#dgb)"/>
<circle cx="2055" cy="337.8" r="9.15" fill="url(#dgb)"/>
<circle cx="2062.6" cy="346" r="9.15" fill="url(#dgb)"/>
<circle cx="2057.5" cy="362.3" r="9.15" fill="url(#dgb)"/>
<circle cx="2052" cy="375.5" r="9.15" fill="url(#dgb)"/>
<circle cx="2058.8" cy="389.5" r="9.15" fill="url(#dgb)"/>
<circle cx="2047.8" cy="399" r="9.15" fill="#c45376"/>
<circle cx="2041.1" cy="414.3" r="9.15" fill="#c45376"/>
<circle cx="2034.6" cy="425.7" r="9.15" fill="#c45376"/>
<circle cx="2025" cy="440.4" r="9.15" fill="#c45376"/>
<circle cx="2010.3" cy="444.8" r="9.15" fill="#c45376"/>
<circle cx="1996.8" cy="460.4" r="9.15" fill="#c45376"/>
<circle cx="1973.7" cy="464.8" r="9.15" fill="#c45376"/>
<circle cx="1955.5" cy="471.7" r="9.15" fill="#c45376"/>
<circle cx="1933.3" cy="473.5" r="9.15" fill="#c45376"/>
<circle cx="1919" cy="466.5" r="9.15" fill="#c45376"/>
<circle cx="1893.5" cy="464.8" r="9.15" fill="#c45376"/>
<circle cx="1889" cy="460.4" r="9.15" fill="#c45376"/>
<circle cx="1876.6" cy="455" r="9.15" fill="#c45376"/>
<circle cx="1862.4" cy="449.6" r="9.15" fill="#c45376"/>
<circle cx="1852.9" cy="440.9" r="9.15" fill="#c45376"/>
<circle cx="1378.4" cy="371.8" r="9.15" fill="#bebebe"/>
<text transform="translate(1194.4 387.6) scale(0.9700 1)" font-size="49" text-anchor="middle" fill="#1c1c20">?</text>
<path d="M1409.58 378.45L1501 397.1" stroke="#373737" stroke-width="4.4" stroke-linecap="round" fill="none"/>
<path d="M1398.8 376.25L1411.14 385.81L1410.07 378.55L1413.9 372.29Z" fill="#373737"/>
<text transform="translate(1514.4 421.3) scale(1.0300 1)" font-size="48" text-anchor="start" fill="#262626"><tspan font-style="italic">R</tspan></text>
<text transform="translate(1544.2 430) scale(1.1580 1)" font-size="31" text-anchor="start" fill="#262626">0,Im(<tspan font-style="italic">Z</tspan>)=0</text>
<path d="M1226.05 328.49L1288.8 266" stroke="#ffae84" stroke-width="4.4" stroke-linecap="butt" fill="none"/>
<path d="M1217.9 336.6L1232.62 331.54L1226.4 328.13L1223.02 321.9Z" fill="#ffae84"/>
<rect x="1202" y="198.9" width="219.8" height="67.2" rx="7.5" fill="#ffae84"/>
<text transform="translate(1218.5 248.1) scale(1.0300 1)" font-size="48" text-anchor="start" fill="#fff" stroke="#ffae84" stroke-width="0.34"><tspan font-style="italic">R</tspan></text>
<text transform="translate(1248 256.8) scale(1.1300 1)" font-size="31" text-anchor="start" fill="#fff" stroke="#ffae84" stroke-width="0.22">0,true</text>
<text transform="translate(1355.5 250.7) scale(1.4500 1)" font-size="45" text-anchor="middle" fill="#fff">=</text>
<text transform="translate(1398.3 248.1)" font-size="47" text-anchor="middle" fill="#fff" stroke="#ffae84" stroke-width="0.33">?</text>
<rect x="1184.9" y="68" width="397" height="67" rx="7.5" fill="#007a9e"/>
<text transform="translate(1383.6 112.3) scale(1.0810 1)" font-size="44" text-anchor="middle" fill="#fff" stroke="#007a9e" stroke-width="0.31">resistive-capacitive</text>
<rect x="1605.7" y="531" width="396.5" height="67" rx="7.5" fill="#c45376"/>
<text transform="translate(1803.1 577.9) scale(1.0850 1)" font-size="44" text-anchor="middle" fill="#fff" stroke="#c45376" stroke-width="0.31">resistive-inductive</text>
<text transform="translate(1162.2 684.6)" font-size="36" text-anchor="middle" fill="#262626" stroke="#fff" stroke-width="0.25">0</text>
<text transform="translate(1312.4 684.6)" font-size="36" text-anchor="middle" fill="#262626" stroke="#fff" stroke-width="0.25">1</text>
<text transform="translate(1462.6 684.6)" font-size="36" text-anchor="middle" fill="#262626" stroke="#fff" stroke-width="0.25">2</text>
<text transform="translate(1612.8 684.6)" font-size="36" text-anchor="middle" fill="#262626" stroke="#fff" stroke-width="0.25">3</text>
<text transform="translate(1763 684.6)" font-size="36" text-anchor="middle" fill="#262626" stroke="#fff" stroke-width="0.25">4</text>
<text transform="translate(1913.2 684.6)" font-size="36" text-anchor="middle" fill="#262626" stroke="#fff" stroke-width="0.25">5</text>
<text transform="translate(2063.4 684.6)" font-size="36" text-anchor="middle" fill="#262626" stroke="#fff" stroke-width="0.25">6</text>
<text transform="translate(1154.35 75.3)" font-size="36" text-anchor="end" fill="#262626" stroke="#fff" stroke-width="0.25">-2</text>
<text transform="translate(1152.85 229.8)" font-size="36" text-anchor="end" fill="#262626" stroke="#fff" stroke-width="0.25">-1</text>
<text transform="translate(1155.45 384.3)" font-size="36" text-anchor="end" fill="#262626" stroke="#fff" stroke-width="0.25">0</text>
<text transform="translate(1153.35 538.8)" font-size="36" text-anchor="end" fill="#262626" stroke="#fff" stroke-width="0.25">1</text>
<text transform="translate(1613.23 727.6) scale(1.1740 1)" font-size="36" text-anchor="middle" fill="#262626" stroke="#fff" stroke-width="0.25">Re(<tspan font-style="italic">Z</tspan>) / mΩ</text>
<text transform="translate(1086.25 331.35) rotate(-90) scale(1.1800 1)" font-size="36" text-anchor="middle" fill="#262626" stroke="#fff" stroke-width="0.25">Im(<tspan font-style="italic">Z</tspan>) / mΩ</text>
<text transform="translate(1049.7 33.7) scale(1.0800 1)" font-size="45" text-anchor="start" fill="#262626" stroke="#fff" stroke-width="0.32">(b)</text>
</svg>
</body>
</html>
